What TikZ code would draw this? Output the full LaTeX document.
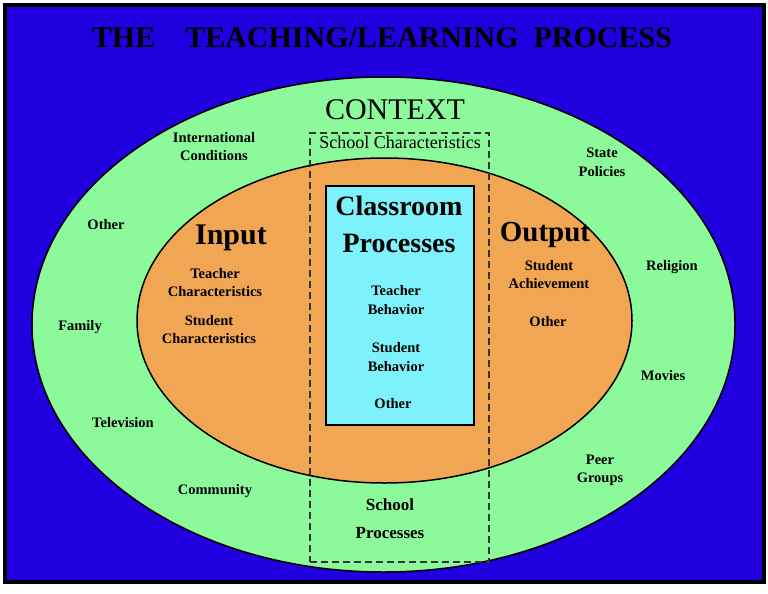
\documentclass[tikz,border=0pt]{standalone}
\usepackage{fontspec}
\setmainfont{Liberation Serif}
\usetikzlibrary{shapes.geometric,positioning}
\definecolor{slideblue}{RGB}{32,0,222}
\definecolor{contextgreen}{RGB}{140,250,155}
\definecolor{processorange}{RGB}{240,166,82}
\definecolor{roomcyan}{RGB}{125,242,250}

\begin{document}
\begin{tikzpicture}[x=1pt, y=-1pt,
  lbl/.style={font=\fontsize{14.5}{18.5}\selectfont\bfseries, align=center, inner sep=0pt},
  big/.style={font=\fontsize{29}{36}\selectfont\bfseries, align=center, inner sep=0pt}]
\useasboundingbox (0,0) rectangle (768,594);
\node[draw, rectangle, line width=4pt, fill=slideblue, minimum width=759pt, minimum height=577pt, inner sep=0pt] (frame) at (384.7,293.5) {};
\node[font=\fontsize{30}{36}\selectfont\bfseries, inner sep=0pt] (title) at (382,38) {THE\quad TEACHING/LEARNING\enspace PROCESS};

% context and process ellipses
\node[draw, ellipse, line width=1.5pt, fill=contextgreen, minimum width=703pt, minimum height=495pt, inner sep=0pt] (context) at (383.5,324.5) {};
\node[draw, ellipse, line width=1.5pt, fill=processorange, minimum width=495pt, minimum height=325pt, inner sep=0pt] (process) at (384.5,320.5) {};
\node[draw=black!80, dash pattern=on 7pt off 4pt, line width=1.2pt, rectangle, minimum width=179pt, minimum height=429pt, inner sep=0pt] (school) at (399.5,347.5) {};
\node[draw, rectangle, line width=2.5pt, fill=roomcyan, minimum width=148pt, minimum height=239pt, inner sep=0pt] (classroom) at (400,305.5) {};

\node[font=\fontsize{30}{34}\selectfont, inner sep=0pt] (contexthead) at (395,110) {CONTEXT};
\node[font=\fontsize{18}{20}\selectfont, inner sep=0pt] (schoolchar) at (400,142) {School Characteristics};
\node[lbl] (intl) at (214,146.5) {International\\Conditions};
\node[lbl] (other1) at (106,225) {Other};
\node[lbl] (family) at (80,327) {Family};
\node[lbl] (tv) at (123,423) {Television};
\node[lbl] (community) at (215,491) {Community};
\node[lbl] (state) at (602,162.5) {State\\Policies};
\node[lbl] (religion) at (672,267) {Religion};
\node[lbl] (movies) at (663,376) {Movies};
\node[lbl] (peer) at (600,470.5) {Peer\\Groups};
\node[font=\fontsize{17}{28}\selectfont\bfseries, align=center, inner sep=0pt] (schoolproc) at (390,519) {School\\Processes};

% input
\node[big, font=\fontsize{30}{36}\selectfont\bfseries] (input) at (231,238) {Input};
\node[lbl] (teacherchar) at (215,282.5) {Teacher\\Characteristics};
\node[lbl] (studentchar) at (209,329.5) {Student\\Characteristics};

% classroom
\node[big, font=\fontsize{28}{37}\selectfont\bfseries] (classhead) at (399,224.5) {Classroom\\Processes};
\node[lbl] (teacherbeh) at (396,300) {Teacher\\Behavior};
\node[lbl] (studentbeh) at (396,357) {Student\\Behavior};
\node[lbl] (other2) at (393,404) {Other};

% output
\node[big] (output) at (545,235) {Output};
\node[lbl] (achievement) at (549,274.5) {Student\\Achievement};
\node[lbl] (other3) at (548,322) {Other};
\end{tikzpicture}
\end{document}
